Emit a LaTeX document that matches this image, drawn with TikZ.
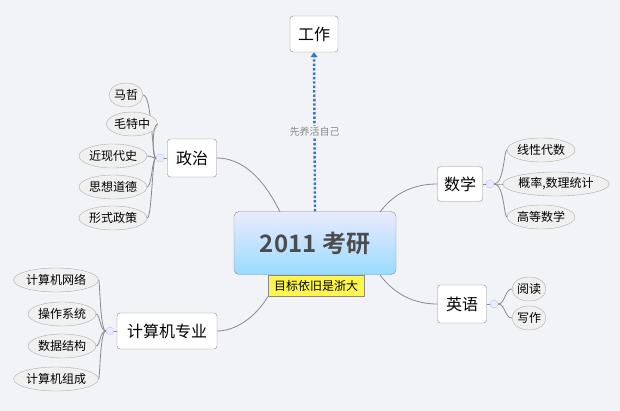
\documentclass[tikz,border=0pt]{standalone}
\usepackage{fontspec}
\setmainfont{Noto Sans CJK SC}
\newfontfamily\boldcjk{Noto Sans CJK SC Bold}
\usetikzlibrary{shapes.geometric,arrows.meta}
\definecolor{bg}{HTML}{F1F3F7}
\definecolor{ln}{HTML}{8A8A8A}
\definecolor{arr}{HTML}{2F78D0}
\tikzset{
 topic/.style={draw=ln,fill=white,rounded corners=3pt,font=\fontsize{16}{18}\selectfont,inner sep=0pt},
 leaf/.style={draw=ln!70,ellipse,fill=black!6,font=\fontsize{12}{14}\selectfont,inner sep=0pt,minimum height=24pt},
 conn/.style={ln,line width=0.8pt},
 knob/.style={circle,draw=blue!25,fill=blue!8,minimum size=8pt,inner sep=0pt}
}
\begin{document}
\begin{tikzpicture}[x=1pt,y=-1pt]
\fill[bg] (0,0) rectangle (620,411);
\useasboundingbox (0,0) rectangle (620,411);
\node[topic,minimum width=48pt,minimum height=36pt] (work) at (314,34) {工作};
\node[draw=ln,rounded corners=5pt,top color=blue!8,bottom color=blue!35!cyan!40,minimum width=162pt,minimum height=63pt,font=\fontsize{24}{28}\selectfont\boldcjk,text=black!70] (c) at (315,243) {2011 考研};
\node[draw=ln,fill=yellow!70,font=\fontsize{12}{14}\selectfont,minimum width=96pt,minimum height=21pt,inner sep=0pt] (note) at (316,286) {目标依旧是浙大};
\draw[arr,line width=2.4pt,dotted,-{Triangle[width=7pt,length=5pt]}] (c.north) -- (work.south) node[midway,fill=bg,text=ln,font=\fontsize{10}{12}\selectfont,inner sep=1pt] (lab) {先养活自己};
% politics
\node[topic,minimum width=49pt,minimum height=38pt] (pol) at (192,158) {政治};
\draw[conn] (280,212) .. controls (262,175) and (240,158) .. (pol.east);
\node[knob] (kp) at (160,158) {};
\draw[conn] (kp) -- (pol.west);
\foreach \n/\t/\x/\y in {p1/马哲/126/95,p2/毛特中/132/124,p3/近现代史/113/156,p4/思想道德/113/187,p5/形式政策/113/218}{
 \node[leaf] (\n) at (\x,\y) {\t};
 \draw[conn] (kp.west) .. controls (152,158) and (152,\y) .. (\n.east);}
% math
\node[topic,minimum width=45pt,minimum height=35pt] (math) at (460,184) {数学};
\draw[conn] (380,212) .. controls (395,192) and (415,184) .. (math.west);
\node[knob] (km) at (490,184) {};
\draw[conn] (math.east) -- (km);
\foreach \n/\t/\x/\y in {m1/线性代数/541/150,m2/{概率,数理统计}/556/184,m3/高等数学/541/217}{
 \node[leaf] (\n) at (\x,\y) {\t};
 \draw[conn] (km.east) .. controls (504,184) and (504,\y) .. (\n.west);}
% english
\node[topic,minimum width=49pt,minimum height=38pt] (eng) at (462,304) {英语};
\draw[conn] (380,275) .. controls (395,295) and (415,304) .. (eng.west);
\node[knob] (ke) at (494,304) {};
\draw[conn] (eng.east) -- (ke);
\foreach \n/\t/\x/\y in {e1/阅读/529/289,e2/写作/529/318}{
 \node[leaf] (\n) at (\x,\y) {\t};
 \draw[conn] (ke.east) .. controls (505,304) and (505,\y) .. (\n.west);}
% cs
\node[topic,minimum width=100pt,minimum height=36pt] (cs) at (167,331) {计算机专业};
\draw[conn] (note.south west) .. controls (255,318) and (235,331) .. (cs.east);
\node[knob] (kc) at (110,331) {};
\draw[conn] (kc) -- (cs.west);
\foreach \n/\t/\x/\y in {c1/计算机网络/56/280,c2/操作系统/62/314,c3/数据结构/62/346,c4/计算机组成/56/379}{
 \node[leaf] (\n) at (\x,\y) {\t};
 \draw[conn] (kc.west) .. controls (100,331) and (100,\y) .. (\n.east);}
\end{tikzpicture}
\end{document}
